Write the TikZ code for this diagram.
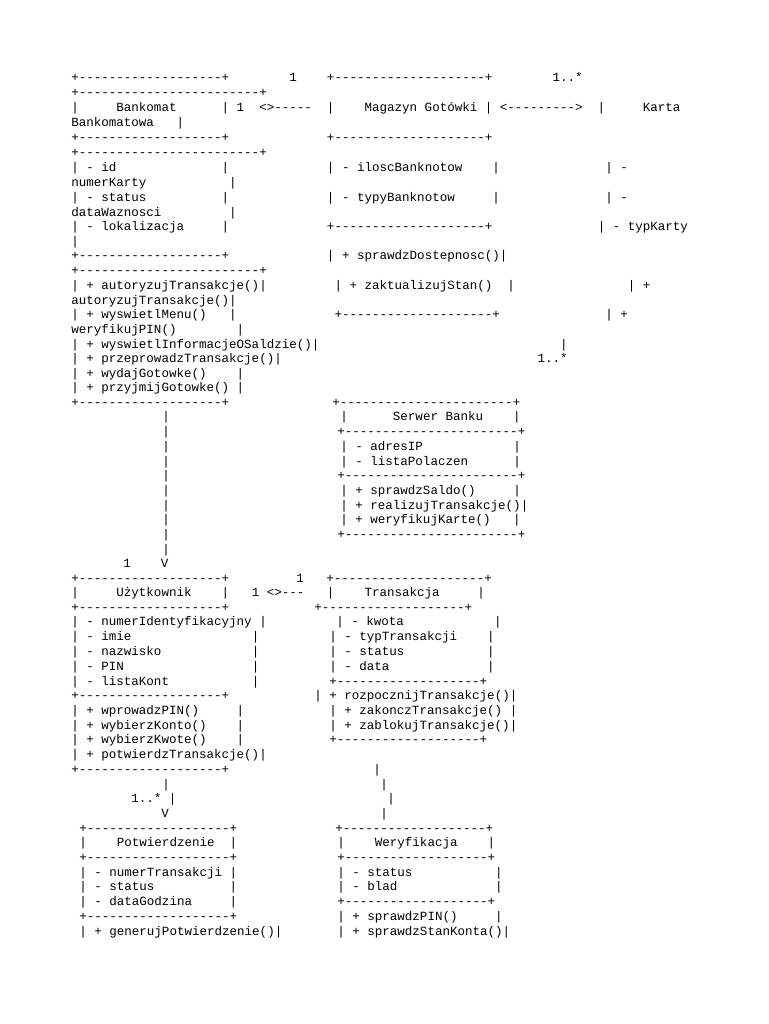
\documentclass[tikz,border=0pt]{standalone}
\usepackage{fontspec}
\setmonofont{Liberation Mono}
\tikzset{ascii/.style={anchor=base west,inner sep=0pt,font=\ttfamily\fontsize{9.4}{11}\selectfont}}
\begin{document}
\begin{tikzpicture}[x=0.75pt,y=0.75pt,yscale=-1,xscale=1]
	\useasboundingbox (0,0) rectangle (768,1024);

	% Bankomat / Magazyn / Karta
	\node[ascii] (r1) at (71,82) {+-------------------+~~~~~~~~1~~~~+--------------------+~~~~~~~~1..*};
	\node[ascii] (r2) at (71,97) {+------------------------+};
	\node[ascii] (r3) at (71,112) {|~~~~~Bankomat~~~~~~|~1~~<>-----~~|~~~~Magazyn~Gotówki~|~<--------->~~|~~~~~Karta};
	\node[ascii] (r4) at (71,127) {Bankomatowa~~~|};
	\node[ascii] (r5) at (71,142) {+-------------------+~~~~~~~~~~~~~+--------------------+};
	\node[ascii] (r6) at (71,156) {+------------------------+};
	\node[ascii] (r7) at (71,171) {|~-~id~~~~~~~~~~~~~~|~~~~~~~~~~~~~|~-~iloscBanknotow~~~~|~~~~~~~~~~~~~~|~-};
	\node[ascii] (r8) at (71,186) {numerKarty~~~~~~~~~~~|};
	\node[ascii] (r9) at (71,201) {|~-~status~~~~~~~~~~|~~~~~~~~~~~~~|~-~typyBanknotow~~~~~|~~~~~~~~~~~~~~|~-};
	\node[ascii] (r10) at (71,216) {dataWaznosci~~~~~~~~~|};
	\node[ascii] (r11) at (71,230) {|~-~lokalizacja~~~~~|~~~~~~~~~~~~~+--------------------+~~~~~~~~~~~~~~|~-~typKarty};
	\node[ascii] (r12) at (71,245) {|};
	\node[ascii] (r13) at (71,259) {+-------------------+~~~~~~~~~~~~~|~+~sprawdzDostepnosc()|};
	\node[ascii] (r14) at (71,274) {+------------------------+};
	\node[ascii] (r15) at (71,289) {|~+~autoryzujTransakcje()|~~~~~~~~~|~+~zaktualizujStan()~~|~~~~~~~~~~~~~~~|~+};
	\node[ascii] (r16) at (71,304) {autoryzujTransakcje()|};
	\node[ascii] (r17) at (71,318) {|~+~wyswietlMenu()~~~|~~~~~~~~~~~~~+--------------------+~~~~~~~~~~~~~~|~+};
	\node[ascii] (r18) at (71,333) {weryfikujPIN()~~~~~~~~|};
	\node[ascii] (r19) at (71,348) {|~+~wyswietlInformacjeOSaldzie()|~~~~~~~~~~~~~~~~~~~~~~~~~~~~~~~~|};
	\node[ascii] (r20) at (71,362) {|~+~przeprowadzTransakcje()|~~~~~~~~~~~~~~~~~~~~~~~~~~~~~~~~~~1..*};
	\node[ascii] (r21) at (71,377) {|~+~wydajGotowke()~~~~|};
	\node[ascii] (r22) at (71,391) {|~+~przyjmijGotowke()~|};
	\node[ascii] (r23) at (71,406) {+-------------------+};

	% Serwer Banku
	\node[ascii] (s1) at (332,406) {+-----------------------+};
	\node[ascii] (s2) at (340,420) {|~~~~~~Serwer~Banku~~~~|};
	\node[ascii] (s3) at (337,435) {+-----------------------+};
	\node[ascii] (s4) at (340,450) {|~-~adresIP~~~~~~~~~~~~|};
	\node[ascii] (s5) at (340,465) {|~-~listaPolaczen~~~~~~|};
	\node[ascii] (s6) at (337,479) {+-----------------------+};
	\node[ascii] (s7) at (340,494) {|~+~sprawdzSaldo()~~~~~|};
	\node[ascii] (s8) at (340,509) {|~+~realizujTransakcje()|};
	\node[ascii] (s9) at (340,523) {|~+~weryfikujKarte()~~~|};
	\node[ascii] (s10) at (337,538) {+-----------------------+};

	% Bankomat -> Uzytkownik
	\foreach \y [count=\i] in {420,435,450,465,479,494,509,523,538,553}
		\node[ascii] (v\i) at (162,\y) {|};
	\node[ascii] (m1) at (123,567) {1~~~~V};

	% Uzytkownik / Transakcja
	\node[ascii] (u1) at (71,582) {+-------------------+};
	\node[ascii] (t0) at (296,582) {1~~~+--------------------+};
	\node[ascii] (u2) at (71,596) {|~~~~~Użytkownik~~~~|~~~1~<>---~~~|~~~~Transakcja~~~~~|};
	\node[ascii] (u3) at (71,611) {+-------------------+};
	\node[ascii] (t1) at (314,611) {+-------------------+};
	\node[ascii] (u4) at (71,625) {|~-~numerIdentyfikacyjny~|};
	\node[ascii] (t2) at (336,625) {|~-~kwota~~~~~~~~~~~~|};
	\node[ascii] (u5) at (71,640) {|~-~imie~~~~~~~~~~~~~~~~|};
	\node[ascii] (t3) at (329,640) {|~-~typTransakcji~~~~|};
	\node[ascii] (u6) at (71,655) {|~-~nazwisko~~~~~~~~~~~~|};
	\node[ascii] (t4) at (329,655) {|~-~status~~~~~~~~~~~|};
	\node[ascii] (u7) at (71,670) {|~-~PIN~~~~~~~~~~~~~~~~~|};
	\node[ascii] (t5) at (329,670) {|~-~data~~~~~~~~~~~~~|};
	\node[ascii] (u8) at (71,685) {|~-~listaKont~~~~~~~~~~~|};
	\node[ascii] (t6) at (329,685) {+-------------------+};
	\node[ascii] (u9) at (71,699) {+-------------------+};
	\node[ascii] (t7) at (314,699) {|~+~rozpocznijTransakcje()|};
	\node[ascii] (u10) at (71,714) {|~+~wprowadzPIN()~~~~~|};
	\node[ascii] (t8) at (329,714) {|~+~zakonczTransakcje()~|};
	\node[ascii] (u11) at (71,729) {|~+~wybierzKonto()~~~~|};
	\node[ascii] (t9) at (329,729) {|~+~zablokujTransakcje()|};
	\node[ascii] (u12) at (71,743) {|~+~wybierzKwote()~~~~|};
	\node[ascii] (t10) at (329,743) {+-------------------+};
	\node[ascii] (u13) at (71,758) {|~+~potwierdzTransakcje()|};
	\node[ascii] (u14) at (71,773) {+-------------------+};

	% links down
	\node[ascii] (a1) at (373,773) {|};
	\node[ascii] (a2) at (162,788) {|};
	\node[ascii] (a3) at (380,788) {|};
	\node[ascii] (a4) at (131,802) {1..*~|};
	\node[ascii] (a5) at (387,802) {|};
	\node[ascii] (a6) at (161,817) {V};
	\node[ascii] (a7) at (380,817) {|};

	% Potwierdzenie / Weryfikacja
	\node[ascii] (p1) at (79,832) {+-------------------+};
	\node[ascii] (w1) at (335,832) {+-------------------+};
	\node[ascii] (p2) at (79,846) {|~~~~Potwierdzenie~~|};
	\node[ascii] (w2) at (337,846) {|~~~~Weryfikacja~~~~|};
	\node[ascii] (p3) at (79,861) {+-------------------+};
	\node[ascii] (w3) at (337,861) {+-------------------+};
	\node[ascii] (p4) at (79,876) {|~-~numerTransakcji~|};
	\node[ascii] (w4) at (337,876) {|~-~status~~~~~~~~~~~|};
	\node[ascii] (p5) at (79,890) {|~-~status~~~~~~~~~~|};
	\node[ascii] (w5) at (337,890) {|~-~blad~~~~~~~~~~~~~|};
	\node[ascii] (p6) at (79,905) {|~-~dataGodzina~~~~~|};
	\node[ascii] (w6) at (337,905) {+-------------------+};
	\node[ascii] (p7) at (79,920) {+-------------------+};
	\node[ascii] (w7) at (337,920) {|~+~sprawdzPIN()~~~~~|};
	\node[ascii] (p8) at (79,935) {|~+~generujPotwierdzenie()|};
	\node[ascii] (w8) at (337,935) {|~+~sprawdzStanKonta()|};
\end{tikzpicture}
\end{document}
